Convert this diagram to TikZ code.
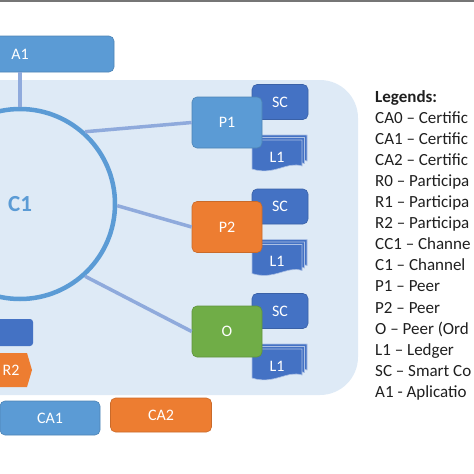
\documentclass[tikz,border=0pt]{standalone}
\usepackage{fontspec}
\setmainfont{Carlito}
\definecolor{bgblue}{RGB}{222,234,246}
\definecolor{midblue}{RGB}{91,155,213}
\definecolor{darkblue}{RGB}{68,114,196}
\definecolor{orng}{RGB}{237,125,49}
\definecolor{grn}{RGB}{112,173,71}
\definecolor{linkc}{RGB}{143,170,220}
\definecolor{barc}{RGB}{118,118,118}
\tikzset{
  box/.style={rounded corners=5pt, inner sep=0pt, text=white, font=\fontsize{16}{19}\selectfont},
  peer/.style={box, minimum width=70pt, minimum height=51pt},
  scbox/.style={box, fill=darkblue, draw=darkblue!85!black, line width=0.6pt, minimum width=56pt, minimum height=35pt},
  page/.style={fill=darkblue, draw=white!55!darkblue, line width=0.6pt},
  conn/.style={draw=linkc, line width=3.5pt},
  legend/.style={anchor=base west, inner sep=0pt, font=\fontsize{17}{20}\selectfont, text=black!88},
}
\begin{document}
\begin{tikzpicture}[x=1pt,y=-1pt]
\useasboundingbox (0,0) rectangle (474,474);
\clip (0,0) rectangle (474,474);
% top bar
\fill[barc] (0,0) rectangle (474,2);
% background region
\fill[bgblue, rounded corners=38pt] (-40,80) -- (358,80) -- (358,395) -- (-40,395) -- cycle;
% application
\node[box, fill=midblue, draw=midblue!85!black, line width=0.6pt, minimum width=188pt, minimum height=36pt] (A1) at (20,54) {A1};
% channel circle
\node[circle, draw=midblue, line width=4.5pt, fill=bgblue, minimum size=190pt, inner sep=0pt,
      text=midblue, font=\bfseries\fontsize{23}{26}\selectfont] (C1) at (20,204) {C1};
% peer groups
\foreach \nm/\col/\dy in {P1/midblue/0, P2/orng/104.5, O/grn/209} {
  \node[scbox] (SC-\nm) at (280,102+\dy) {SC};
  \begin{scope}[shift={(252,135+\dy)}]
    \filldraw[page] (5,0) -- (55,0) -- (55,26) .. controls (40,21) and (27,36) .. (5,29) -- cycle;
    \filldraw[page] (2.5,2.5) -- (52.5,2.5) -- (52.5,28.5) .. controls (37.5,23.5) and (24.5,38.5) .. (2.5,31.5) -- cycle;
    \filldraw[page] (0,5) -- (50,5) -- (50,31) .. controls (35,26) and (22,41) .. (0,34) -- cycle;
    \node[text=white, inner sep=0pt, font=\fontsize{16}{19}\selectfont] (L1-\nm) at (25,22) {L1};
  \end{scope}
  \node[peer, fill=\col, draw=\col!85!black, line width=0.6pt] (\nm) at (227,122.5+\dy) {\nm};
}
% connectors
\draw[conn, line width=4.5pt] (A1.south) -- (C1.north);
\draw[conn] (C1.48) -- (P1.west);
\draw[conn] (C1.-1) -- (P2.west);
\draw[conn] (C1.-48) -- (O.west);
% bottom-left items
\fill[darkblue, rounded corners=3pt] (-10,319) rectangle (33,346);
\fill[orng] (-10,353) -- (27,353) -- (32,370) -- (27,387) -- (-10,387) -- cycle;
\node[text=white, inner sep=0pt, font=\fontsize{16}{19}\selectfont] (R2) at (11,370) {R2};
\node[box, fill=midblue, draw=midblue!85!black, line width=0.6pt, minimum width=100pt, minimum height=34pt] (CA1) at (50,418) {CA1};
\node[box, fill=orng, draw=orng!85!black, line width=0.6pt, minimum width=101pt, minimum height=34pt] (CA2) at (161,415) {CA2};
% legend
\node[legend, font=\bfseries\fontsize{17}{20}\selectfont] (lg0) at (375,102) {Legends:};
\node[legend] (lg1) at (375,123.1) {CA0 – Certific};
\node[legend] (lg2) at (375,144.2) {CA1 – Certific};
\node[legend] (lg3) at (375,165.3) {CA2 – Certific};
\node[legend] (lg4) at (375,186.4) {R0 – Participa};
\node[legend] (lg5) at (375,207.5) {R1 – Participa};
\node[legend] (lg6) at (375,228.6) {R2 – Participa};
\node[legend] (lg7) at (375,249.7) {CC1 – Channe};
\node[legend] (lg8) at (375,270.8) {C1 – Channel};
\node[legend] (lg9) at (375,291.9) {P1 – Peer};
\node[legend] (lg10) at (375,313) {P2 – Peer};
\node[legend] (lg11) at (375,334.1) {O – Peer (Ord};
\node[legend] (lg12) at (375,355.2) {L1 – Ledger};
\node[legend] (lg13) at (375,376.3) {SC – Smart Co};
\node[legend] (lg14) at (375,397.4) {A1 - Aplicatio};
\end{tikzpicture}
\end{document}
